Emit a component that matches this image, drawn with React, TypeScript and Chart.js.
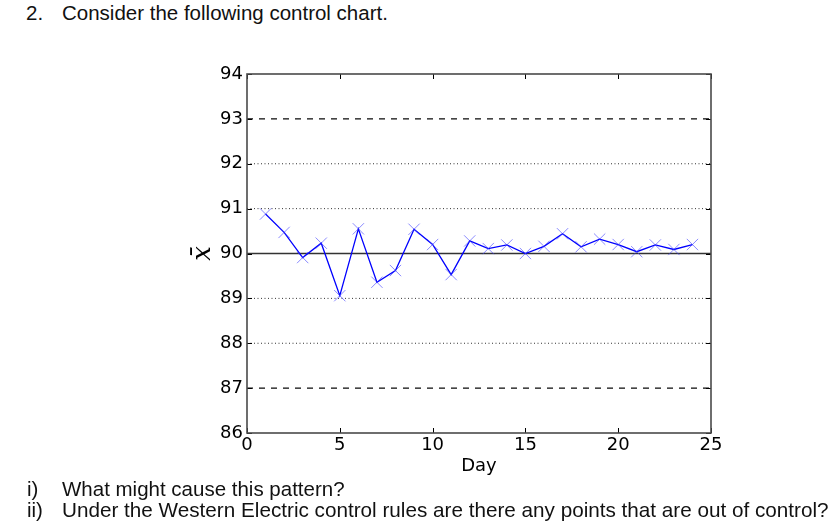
import React, { useEffect, useRef } from 'react';
import { Chart, registerables } from 'chart.js';

Chart.register(...registerables);

// day index and daily sample means
const days = [1, 2, 3, 4, 5, 6, 7, 8, 9, 10, 11, 12, 13, 14, 15, 16, 17, 18, 19, 20, 21, 22, 23, 24];
const xbar = [
  90.88, 90.47, 89.91, 90.23, 89.06, 90.55, 89.36, 89.62, 90.54, 90.2, 89.53, 90.28,
  90.11, 90.19, 90.0, 90.16, 90.44, 90.15, 90.32, 90.2, 90.04, 90.19, 90.09, 90.2,
];
const centerLine = 90;
const controlLimits = [87, 93];
const zoneLines = [88, 89, 91, 92];
const xRange = [0, 25];
const yRange = [86, 94];

const tickFont = { family: '"DejaVu Sans", sans-serif', size: 18 };

const hLine = (y: number, dash: number[], width: number, color: string) => ({
  type: 'line' as const,
  data: xRange.map((x) => ({ x, y })),
  borderColor: color,
  borderWidth: width,
  borderDash: dash,
  pointRadius: 0,
  pointHoverRadius: 0,
  order: 2,
});

// matplotlib style box with inward ticks on every side
const frame = {
  id: 'frame',
  afterDatasetsDraw(chart: Chart) {
    const { ctx, chartArea: a, scales } = chart;
    ctx.save();
    ctx.strokeStyle = '#000';
    ctx.lineWidth = 1;
    const xs = scales.x, ys = scales.y;
    xs.ticks.forEach((t) => {
      const px = Math.round(xs.getPixelForValue(t.value)) + 0.5;
      ctx.beginPath();
      ctx.moveTo(px, a.bottom);
      ctx.lineTo(px, a.bottom - 5);
      ctx.moveTo(px, a.top);
      ctx.lineTo(px, a.top + 5);
      ctx.stroke();
    });
    ys.ticks.forEach((t) => {
      const py = Math.round(ys.getPixelForValue(t.value)) + 0.5;
      ctx.beginPath();
      ctx.moveTo(a.left, py);
      ctx.lineTo(a.left + 5, py);
      ctx.moveTo(a.right, py);
      ctx.lineTo(a.right - 5, py);
      ctx.stroke();
    });
    ctx.strokeStyle = '#4a4a4a';
    ctx.lineWidth = 1.6;
    ctx.strokeRect(a.left, a.top, a.right - a.left, a.bottom - a.top);
    ctx.restore();
  },
};

const ControlChart: React.FC = () => {
  const canvasRef = useRef<HTMLCanvasElement>(null);
  const chartRef = useRef<Chart>();

  useEffect(() => {
    const ctx = canvasRef.current?.getContext('2d');
    if (!ctx) return;
    if (chartRef.current) chartRef.current.destroy();

    chartRef.current = new Chart(ctx, {
      type: 'line',
      data: {
        datasets: [
          ...controlLimits.map((v) => hLine(v, [6, 6], 1.2, '#000')),
          ...zoneLines.map((v) => hLine(v, [1, 2.5], 1, '#333')),
          hLine(centerLine, [], 1.4, '#333'),
          {
            type: 'line',
            data: days.map((d, i) => ({ x: d, y: xbar[i] })),
            borderColor: '#0000ff',
            borderWidth: 1.3,
            pointStyle: 'crossRot',
            pointRadius: 8,
            pointBorderColor: 'rgba(60,60,255,0.6)',
            pointBorderWidth: 1,
            pointBackgroundColor: 'transparent',
            order: 1,
          },
        ],
      },
      options: {
        animation: false,
        responsive: false,
        plugins: { legend: { display: false }, tooltip: { enabled: false } },
        layout: { padding: { left: 187.4, right: 127, top: 74, bottom: 50 } },
        scales: {
          x: {
            type: 'linear',
            min: xRange[0],
            max: xRange[1],
            grid: { display: false, drawTicks: false },
            border: { display: false },
            ticks: { stepSize: 5, color: '#000', font: tickFont, padding: 2, maxRotation: 0 },
            title: {
              display: true,
              text: 'Day',
              color: '#000',
              font: tickFont,
              padding: { top: 0, bottom: 0 },
            },
            afterFit: (s: any) => {
              s.height = 44;
            },
          },
          y: {
            min: yRange[0],
            max: yRange[1],
            grid: { display: false, drawTicks: false },
            border: { display: false },
            ticks: { stepSize: 1, color: '#000', font: tickFont, padding: 4 },
            title: {
              display: true,
              text: 'x\u0304',
              color: '#000',
              font: { family: '"DejaVu Serif", serif', size: 26, style: 'italic' },
              padding: { top: 0, bottom: 0 },
            },
            afterFit: (s: any) => {
              s.width = 59.6;
            },
          },
        },
      },
      plugins: [frame],
    });

    return () => {
      chartRef.current?.destroy();
      chartRef.current = undefined;
    };
  }, []);

  return <canvas ref={canvasRef} width={838} height={527} style={{ position: 'absolute', left: 0, top: 0 }} />;
};

const textStyle: React.CSSProperties = {
  position: 'absolute',
  fontFamily: '"Liberation Sans", Arial, sans-serif',
  fontSize: 20.5,
  lineHeight: '20px',
  color: '#111',
  whiteSpace: 'nowrap',
};

const App: React.FC = () => (
  <div style={{ position: 'fixed', left: 0, top: 0, width: 838, height: 527, background: '#fff', overflow: 'hidden' }}>
    <span style={{ ...textStyle, left: 26, top: 3 }}>2.</span>
    <span style={{ ...textStyle, left: 62, top: 3 }}>Consider the following control chart.</span>
    <ControlChart />
    <span style={{ ...textStyle, left: 27, top: 478.6 }}>i)</span>
    <span style={{ ...textStyle, left: 62, top: 478.6 }}>What might cause this pattern?</span>
    <span style={{ ...textStyle, left: 27, top: 499.6 }}>ii)</span>
    <span style={{ ...textStyle, left: 62, top: 499.6, fontSize: 20.7 }}>
      Under the Western Electric control rules are there any points that are out of control?
    </span>
  </div>
);

export default App;
